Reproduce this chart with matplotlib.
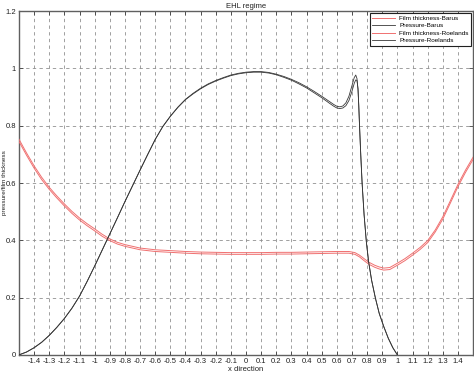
import numpy as np
import matplotlib
matplotlib.use('Agg')
import matplotlib.pyplot as plt
from matplotlib.ticker import FuncFormatter

plt.rcParams['font.family'] = ['Liberation Sans', 'DejaVu Sans']

# pressure (both models share x positions)
xp = [-1.5, -1.45, -1.4, -1.35, -1.3, -1.25, -1.2, -1.15, -1.1, -1.05, -1.0, -0.95,
      -0.9, -0.85, -0.8, -0.75, -0.7, -0.65, -0.6, -0.55, -0.5, -0.45, -0.4, -0.35,
      -0.3, -0.25, -0.2, -0.15, -0.1, -0.05, 0.0, 0.05, 0.1, 0.15, 0.2, 0.25, 0.3,
      0.35, 0.4, 0.45, 0.5, 0.55, 0.58, 0.6, 0.62, 0.64, 0.66, 0.68, 0.70, 0.715,
      0.725, 0.733, 0.74, 0.745, 0.75, 0.758, 0.767, 0.78, 0.795, 0.81, 0.83, 0.855,
      0.88, 0.91, 0.94, 0.97, 1.0]
p_barus = [0.0, 0.01, 0.025, 0.044, 0.068, 0.096, 0.127, 0.163, 0.205, 0.256, 0.31, 0.366,
           0.422, 0.478, 0.535, 0.59, 0.645, 0.699, 0.752, 0.797, 0.833, 0.865, 0.892, 0.913,
           0.931, 0.946, 0.958, 0.968, 0.977, 0.983, 0.987, 0.989, 0.989, 0.986, 0.98, 0.972, 0.962,
           0.950, 0.936, 0.920, 0.903, 0.885, 0.874, 0.868, 0.866, 0.869, 0.880, 0.903, 0.94, 0.968,
           0.977, 0.965, 0.925, 0.87, 0.80, 0.70, 0.60, 0.49, 0.395, 0.325, 0.26, 0.198,
           0.145, 0.099, 0.058, 0.025, 0.0]
p_roel = [0.0, 0.01, 0.025, 0.044, 0.068, 0.096, 0.127, 0.163, 0.205, 0.256, 0.31, 0.366,
          0.422, 0.478, 0.535, 0.59, 0.645, 0.699, 0.752, 0.797, 0.833, 0.864, 0.891, 0.911,
          0.929, 0.944, 0.956, 0.966, 0.975, 0.981, 0.985, 0.987, 0.987, 0.984, 0.978, 0.969, 0.959,
          0.946, 0.932, 0.915, 0.898, 0.879, 0.868, 0.862, 0.860, 0.862, 0.870, 0.888, 0.92, 0.948,
          0.960, 0.958, 0.93, 0.87, 0.80, 0.70, 0.60, 0.49, 0.395, 0.325, 0.26, 0.198,
          0.145, 0.099, 0.058, 0.025, 0.0]

# film thickness
xh = [-1.5, -1.45, -1.4, -1.35, -1.3, -1.25, -1.2, -1.15, -1.1, -1.05, -1.0, -0.95,
      -0.9, -0.85, -0.8, -0.7, -0.6, -0.5, -0.4, -0.3, -0.2, -0.1, 0.0, 0.1, 0.2, 0.3,
      0.4, 0.5, 0.6, 0.68, 0.72, 0.75, 0.78, 0.81, 0.85, 0.88, 0.91, 0.95, 1.0, 1.05,
      1.1, 1.15, 1.2, 1.25, 1.3, 1.35, 1.4, 1.45, 1.5]
h_barus = [0.753, 0.705, 0.66, 0.62, 0.585, 0.555, 0.527, 0.501, 0.478, 0.458, 0.44, 0.421,
           0.405, 0.393, 0.385, 0.373, 0.367, 0.364, 0.361, 0.359, 0.358, 0.357, 0.357, 0.357,
           0.358, 0.358, 0.359, 0.36, 0.361, 0.361, 0.357, 0.348, 0.336, 0.324, 0.313, 0.307,
           0.303, 0.305, 0.32, 0.336, 0.355, 0.375, 0.399, 0.436, 0.482, 0.538, 0.595, 0.645, 0.69]
h_roel = [0.745, 0.697, 0.652, 0.612, 0.578, 0.548, 0.52, 0.494, 0.471, 0.451, 0.433, 0.414,
          0.399, 0.387, 0.379, 0.367, 0.361, 0.358, 0.355, 0.353, 0.352, 0.351, 0.351, 0.351,
          0.352, 0.352, 0.353, 0.354, 0.355, 0.355, 0.351, 0.342, 0.329, 0.317, 0.306, 0.300,
          0.296, 0.298, 0.313, 0.329, 0.348, 0.368, 0.392, 0.429, 0.474, 0.53, 0.587, 0.637, 0.682]

xticks = np.round(np.arange(-1.4, 1.41, 0.1), 1)
yticks = [0, 0.2, 0.4, 0.6, 0.8, 1.0, 1.2]

fig = plt.figure(figsize=(4.74, 3.72), dpi=100)
ax = fig.add_axes([0.040, 0.046, 0.958, 0.924])

red = '#f07070'
dark = '#383838'
ax.plot(xh, h_barus, color=red, lw=0.7, label='Film thickness-Barus', zorder=4)
ax.plot(xp, p_barus, color=dark, lw=0.6, label='Pressure-Barus', zorder=4)
ax.plot(xh, h_roel, color=red, lw=0.7, label='Film thickness-Roelands', zorder=4)
ax.plot(xp, p_roel, color=dark, lw=0.6, label='Pressure-Roelands', zorder=4)

ax.set_xlim(-1.5, 1.5)
ax.set_ylim(0, 1.2)
ax.set_xticks(xticks)
ax.set_yticks(yticks)
fmt = FuncFormatter(lambda v, p: '%g' % round(v, 1))
ax.xaxis.set_major_formatter(fmt)
ax.yaxis.set_major_formatter(fmt)
ax.tick_params(direction='in', length=3, width=0.6, labelsize=5.5, pad=2,
               top=True, right=True, colors='#404040', labelcolor='#202020')

for x in xticks:
    ax.axvline(x, color='#909090', lw=0.6, ls=(0, (4, 4)), zorder=1)
for y in yticks[1:-1]:
    ax.axhline(y, color='#909090', lw=0.6, ls=(0, (4, 4)), zorder=1)

for s in ax.spines.values():
    s.set_color('#606060')
    s.set_linewidth(1.0)

ax.set_title('EHL regime', fontsize=5.5, pad=2, color='#202020')
ax.set_xlabel('x direction', fontsize=5.5, labelpad=1, color='#202020')
ax.set_ylabel('pressure/film thickness', fontsize=4.6, color='#202020')
ax.yaxis.set_label_coords(-0.026, 0.5)

leg = ax.legend(loc='upper right', fontsize=4.6, frameon=True, fancybox=False,
                borderaxespad=0.3, handlelength=3.6, labelspacing=0.3,
                borderpad=0.4, handletextpad=0.6)
leg.get_frame().set_edgecolor('#202020')
leg.get_frame().set_linewidth(0.8)
leg.get_frame().set_alpha(1)

fig.savefig('out.png', dpi=100)
